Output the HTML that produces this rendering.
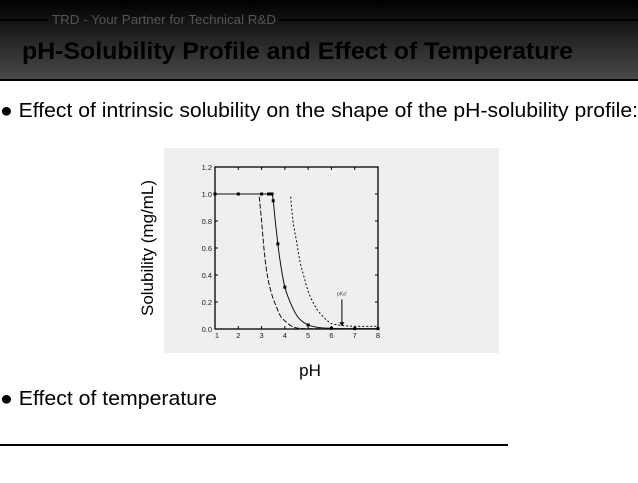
<!DOCTYPE html>
<html><head><meta charset="utf-8"><style>
body{margin:0;width:638px;height:478px;overflow:hidden;background:#fff;font-family:"Liberation Sans",sans-serif}
</style></head><body>
<svg width="638" height="478" viewBox="0 0 638 478" xmlns="http://www.w3.org/2000/svg">
<defs><linearGradient id="hg" x1="0" y1="0" x2="0" y2="1"><stop offset="0" stop-color="#000"/><stop offset="1" stop-color="#4a4a4a"/></linearGradient></defs>
<rect x="0" y="0" width="638" height="80" fill="url(#hg)"/>
<line x1="0" y1="20" x2="48" y2="20" stroke="#000" stroke-width="2"/>
<line x1="278" y1="20" x2="638" y2="20" stroke="#000" stroke-width="2"/>
<text x="52" y="24" font-size="13" fill="#555" textLength="224" lengthAdjust="spacingAndGlyphs">TRD - Your Partner for Technical R&amp;D</text>
<text x="22" y="59" font-size="24" font-weight="bold" fill="#000" textLength="551" lengthAdjust="spacingAndGlyphs">pH-Solubility Profile and Effect of Temperature</text>
<line x1="0" y1="80" x2="638" y2="80" stroke="#000" stroke-width="2"/>
<text x="0" y="117" font-size="20" fill="#000" textLength="638" lengthAdjust="spacingAndGlyphs">● Effect of intrinsic solubility on the shape of the pH-solubility profile:</text>
<rect x="164" y="148" width="335" height="205" fill="#efefef"/>
<g id="chart"></g>
<text transform="translate(153,248) rotate(-90)" text-anchor="middle" font-size="17" fill="#000">Solubility (mg/mL)</text>
<text x="310" y="376" text-anchor="middle" font-size="17" fill="#000">pH</text>
<text x="0" y="405" font-size="20" fill="#000" textLength="217" lengthAdjust="spacingAndGlyphs">● Effect of temperature</text>
<line x1="0" y1="445" x2="508" y2="445" stroke="#000" stroke-width="2"/>
</svg>
<script>
const xTicks=[1,2,3,4,5,6,7,8];
const yTicks=[0,0.2,0.4,0.6,0.8,1.0,1.2];
const yTickLabels=["0.0","0.2","0.4","0.6","0.8","1.0","1.2"];
const solidX=[1,2,3,3.3,3.4,3.45,3.5,3.6,3.7,3.8,4,4.3,4.6,5,5.5,6,7,8];
const solidY=[1,1,1,1,1,1,0.95,0.78,0.63,0.5,0.31,0.17,0.08,0.03,0.01,0.005,0.003,0.003];
const markerX=[1,2,3,3.3,3.4,3.45,3.5,3.7,4,5,6,7,8];
const markerY=[1,1,1,1,1,1,0.95,0.63,0.31,0.03,0.005,0.003,0.003];
const dashX=[2.9,3.0,3.1,3.2,3.3,3.45,3.6,3.8,4,4.3,4.6,5,6,8];
const dashY=[0.98,0.8,0.6,0.45,0.35,0.25,0.18,0.1,0.06,0.02,0.005,0.003,0.002,0.002];
const dotX=[4.25,4.35,4.5,4.65,4.8,5,5.2,5.4,5.6,5.8,6,6.3,6.5,7,8];
const dotY=[0.98,0.8,0.65,0.5,0.4,0.28,0.2,0.14,0.1,0.065,0.04,0.03,0.025,0.02,0.02];
const pKa=6.45;
const NS="http://www.w3.org/2000/svg";
const g=document.getElementById('chart');
const X=v=>215+(v-1)*(378-215)/7;
const Y=v=>329-v*(329-167)/1.2;
function mk(t,a){const e=document.createElementNS(NS,t);for(const k in a)e.setAttribute(k,a[k]);g.appendChild(e);return e;}
let f=mk('rect',{x:X(1),y:Y(1.2),width:X(8)-X(1),height:Y(0)-Y(1.2),fill:'none',stroke:'#000','stroke-width':1.3});


xTicks.forEach(v=>{
 mk('line',{x1:X(v),x2:X(v),y1:Y(0),y2:Y(0)-3,stroke:'#000'});
 mk('line',{x1:X(v),x2:X(v),y1:Y(1.2),y2:Y(1.2)+3,stroke:'#000'});
 const t=mk('text',{x:X(v)+(v==1?2:0),y:Y(0)+9,'font-size':7.5,'text-anchor':'middle',fill:'#222'});t.textContent=v;
 
 
});
yTicks.forEach((v,i)=>{
 mk('line',{x1:X(1),x2:X(1)+3,y1:Y(v),y2:Y(v),stroke:'#000'});
 mk('line',{x1:X(8),x2:X(8)-3,y1:Y(v),y2:Y(v),stroke:'#000'});
 const t=mk('text',{x:X(1)-3,y:Y(v)+3,'font-size':7.5,'text-anchor':'end',fill:'#222'});t.textContent=yTickLabels[i];
 
 
});
function smooth(xs,ys){const P=xs.map((x,i)=>[X(x),Y(ys[i])]);let d='M'+P[0].join(',');
 for(let i=0;i<P.length-1;i++){const p0=P[Math.max(0,i-1)],p1=P[i],p2=P[i+1],p3=P[Math.min(P.length-1,i+2)];
 const c1=[p1[0]+(p2[0]-p0[0])/6,p1[1]+(p2[1]-p0[1])/6],c2=[p2[0]-(p3[0]-p1[0])/6,p2[1]-(p3[1]-p1[1])/6];
 d+=` C${c1.join(',')} ${c2.join(',')} ${p2.join(',')}`;}return d;}
function line(xs,ys,dash,name){const p=mk('path',{d:smooth(xs,ys),fill:'none',stroke:'#111','stroke-width':1,'stroke-dasharray':dash});
 
 }
line(dashX,dashY,'5,2','series-low-intrinsic-solubility');
line(dotX,dotY,'2,2','series-high-intrinsic-solubility');
line(solidX,solidY,'none','series-reference');
markerX.forEach((x,i)=>{const c=mk('rect',{x:X(x)-1.5,y:Y(markerY[i])-1.5,width:3,height:3,fill:'#000'});
 
 });
const a=mk('line',{x1:X(pKa),x2:X(pKa),y1:Y(0.22),y2:Y(0.04),stroke:'#000'});


mk('polygon',{points:`${X(pKa)-2.5},${Y(0.05)} ${X(pKa)+2.5},${Y(0.05)} ${X(pKa)},${Y(0.02)}`,fill:'#000'});
const pt=mk('text',{x:X(pKa),y:Y(0.25),'font-size':5,'text-anchor':'middle',fill:'#444'});pt.textContent="pKa'";


</script>
</body></html>
